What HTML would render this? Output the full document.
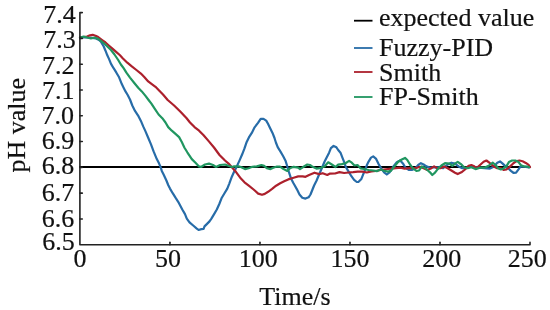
<!DOCTYPE html>
<html><head><meta charset="utf-8"><style>
html,body{margin:0;padding:0;background:#fff;width:550px;height:310px;overflow:hidden}
svg{position:absolute;left:0;top:0}
text{font-family:"Liberation Serif", "Times New Roman", serif;font-size:26px;fill:#111;stroke:#111;stroke-width:0.2px}
</style></head><body>
<svg width="550" height="310" viewBox="0 0 550 310">
<g fill="none" stroke-width="2.2" stroke-linejoin="round" stroke-linecap="round">
<line x1="80" y1="167.1" x2="529.5" y2="167.1" stroke="#000" stroke-width="2"/>
<path d="M80,37.5 L86,37.5 L92,37.8 L96,38.5 L99,40 L100.9,41.6 L103.6,46.2 L105.5,50.7 L107.3,55.3 L109.1,59.1 L110.9,63.6 L113.6,68.2 L116.4,72.7 L119.1,77.3 L121.8,84.1 L123.6,87.7 L125.5,91.4 L127.7,95 L130,99.5 L132.3,105.5 L135,110.9 L138.6,116.4 L140.9,120.9 L143.2,126.4 L145.5,131.4 L148.2,137.7 L150.9,144.1 L153.6,151.4 L156.8,159.1 L159.1,163.6 L160.5,166.8 L161.8,170.9 L163.6,174.5 L166.4,180.5 L168.2,185 L170,188.6 L172.7,193.2 L175.5,197.7 L178.2,201.8 L182.3,209.5 L185,214.1 L186.8,218.6 L189.5,222.3 L193.2,225.5 L196.8,228.6 L198.6,230 L201.4,229.1 L203.6,228.8 L204.5,226.4 L206.8,224.1 L209.5,221.4 L211.4,218.6 L214.1,214.1 L216.8,209.5 L219.3,204 L221.8,197.7 L224.5,193.2 L227.3,188.6 L229.1,184.1 L231.4,177.8 L234.1,171.8 L236.8,166.4 L239.9,159.6 L242.2,154.3 L244.4,148.7 L246.7,141.9 L248.9,137.4 L251.8,132.9 L254.6,127.3 L258,122.9 L260.7,118.8 L263.5,118.8 L266.2,120.6 L268,123.8 L269.8,127.5 L272.5,132.9 L274.5,138 L275.9,142.5 L277.7,147.1 L280.5,151.6 L283.2,156.2 L285.5,160.7 L287,165.5 L289.1,172.7 L290.9,178.2 L293.2,182.7 L294.5,185 L296.8,189.1 L299.5,194.5 L302.3,197.7 L305.5,198.6 L308.6,197.3 L310.5,194.5 L312.3,190 L314.1,185.5 L316.6,180.5 L319.1,174.5 L321.8,168.2 L324.5,161.8 L326.4,158 L329.1,152.7 L330.9,148.2 L333.6,145.9 L336.4,147.3 L338.2,150 L340.5,152.7 L342.3,157.3 L344.1,161.8 L345.9,167.1 L348.6,171.6 L351.4,176.2 L354.1,179.8 L356.8,182 L358.6,181.8 L361.4,178.9 L363.2,174.4 L365,169.8 L366.8,165.3 L368.6,161.6 L371,157.6 L373.2,156.4 L375.9,158.6 L378.6,164.1 L381.4,168.6 L384.1,172.3 L386.8,174.5 L389.5,172.3 L393.2,166.8 L396.8,162.3 L400.2,160.5 L402.9,163.4 L405.5,167.7 L409.1,170 L411.8,170 L415.5,168.2 L418.2,165 L420.9,163.2 L423.6,164.5 L426.4,166.4 L430,167.5 L434.1,167.3 L438.6,167.3 L443.2,168.2 L447.7,164.5 L451.4,162.7 L455,163.6 L458.6,166.4 L462.3,168.2 L465.9,168.2 L470.5,166.8 L475,167 L479.1,167.7 L484.5,168.2 L490,168.6 L493.6,166.8 L497.3,162.7 L500,161.4 L502.7,163.6 L505.5,166.4 L508.2,168.2 L510.9,170.9 L513.7,173 L516.1,172.6 L518.5,169.4 L520.2,166.9 L522.6,166.5 L525.8,166.9 L529,167.3" stroke="#276ca8" />
<path d="M80,37.5 L84,37 L87,36.5 L90,35.3 L92.7,34.8 L95.5,35.7 L98.2,37.1 L101.8,39.8 L105.5,42.5 L109.1,45.7 L112.7,48.9 L116.4,52.1 L120,55.3 L122.7,58.2 L127.3,62.7 L131.8,66.4 L136.4,70 L140.9,73.6 L144.5,77.3 L148.2,81.4 L151.8,84.1 L155.5,86.8 L159.1,90.5 L163,94.5 L167.7,100 L174.1,105.5 L180,111.2 L186.4,118 L190,122.5 L194.5,127.1 L199.1,130.7 L203.6,135.3 L209.1,141.6 L214,147.5 L219.5,155 L225,160.5 L228.6,163.6 L232.3,167.7 L235.9,171.8 L240.9,178.6 L244.5,182.3 L249.1,185.9 L253.6,189.5 L258.2,193.6 L262,194.8 L264.8,193.9 L268.1,191.8 L272.1,188.9 L276.1,185.7 L280.2,183.3 L284.2,181.3 L288.2,179.4 L293.6,177.7 L298.2,176.4 L302.7,176.4 L305.5,176.8 L309.1,175 L314.5,172.7 L319.1,174.1 L322.7,173.2 L327.3,175 L330,173.6 L335,173.5 L339.5,172.1 L344.1,173 L348.6,172.5 L353.2,172.1 L357.7,171.6 L362.3,171.6 L366.8,172.5 L371.4,171.4 L375.9,171 L380.5,170 L384,169.5 L388,169 L391.4,168.6 L395.9,168.2 L400.5,167.7 L404.5,168.6 L410,168.2 L415.5,168.2 L420,166.8 L423.6,168.2 L427.3,170 L431.4,168.2 L434.1,166.4 L436.8,168.2 L440.5,168.2 L444.1,166.4 L447.7,168.2 L451.4,170.5 L455,172.7 L457.7,174.1 L461.4,172.3 L465,169.5 L468.6,165.9 L471.4,165 L473.6,165.9 L476.4,168.2 L480,165 L483.6,161.8 L486.4,160.5 L490,163.2 L493.6,166.4 L497.3,168.2 L500.9,168 L503.5,170 L506.5,169.4 L509.7,166.9 L512.9,163.7 L516.1,161.3 L519.4,160.5 L522.6,161.3 L525.8,162.9 L528.6,164.9 L530,167" stroke="#ac202c" />
<path d="M80,37.5 L83.6,36.6 L87.3,37.5 L90.9,38.5 L94.5,37.5 L98.2,38.9 L100.9,40.9 L103.3,42.8 L107.1,46.2 L111,50 L114.5,54.5 L118.2,60 L120.9,64.5 L123.6,68.2 L126.4,72.7 L130,77.6 L134.5,83.2 L138.2,87.7 L141.8,91.4 L145.5,95.9 L148.2,99.5 L151.4,103.6 L155,109.1 L158.6,114.5 L162.3,118.2 L165.5,122.5 L168.2,127.1 L171.8,130.7 L175.5,133.9 L179.1,137.1 L181.8,142 L184.5,147.7 L187.3,152.3 L191.8,159.1 L195.5,162.7 L199,166.4 L201,167 L205,164.5 L209,163.6 L213,165 L216,167 L220,165 L225,164.5 L229,166 L232,167 L234.1,166.4 L238.6,166.4 L241.4,167.3 L245,169.1 L248.6,168.2 L252.3,166.8 L256.8,166.4 L261.4,165 L264.1,165.9 L266.8,168.2 L270.5,169.1 L273.2,167.7 L277,166.5 L280,166.6 L283.6,169.1 L287.3,170.9 L290,168.2 L293.6,166.8 L298.2,167.7 L300,169.1 L303.6,166.8 L307.3,164.5 L310,165 L312.7,166.8 L316.4,168.6 L320,168.2 L322,167.2 L324.5,166.5 L328.2,162.3 L331.8,164.5 L335.5,167 L338.2,164.6 L341.8,164.1 L345.5,163.2 L349.1,160.9 L351.8,162.7 L354.5,165.5 L357.5,165 L360.5,168.3 L364.1,169 L368.6,170 L373.2,170.5 L376.8,171.2 L380.5,169.5 L384.1,170.7 L388,171.6 L390.9,170.9 L394.5,166.4 L398.2,161.8 L401.8,159.5 L405,157.9 L407.3,160 L410,164.5 L412.7,168.2 L416.4,170.9 L419.1,170.5 L421.8,166.4 L424.5,167.7 L427.3,170 L430,172.3 L432.3,175 L435,172.7 L437.7,169.1 L441.4,165.5 L445,163.2 L449.5,163.6 L452.3,165.9 L455,163.6 L457.7,161.8 L461.4,164.5 L464.1,167.3 L467.7,168.2 L471.4,167.3 L475.5,169.1 L480,167.7 L484.5,167.7 L489.1,165.5 L492.7,162.7 L495.5,165 L498.2,168.2 L500.9,169.5 L503.2,168.5 L506.5,166.1 L508.9,162.1 L512.1,160.5 L515.3,160.5 L518.5,162.1 L521,165.3 L524.2,166.5 L527.4,166.5 L529,167.3" stroke="#209660" />
</g>
<g fill="none" stroke="#222" stroke-width="1.6" stroke-linecap="round" stroke-linejoin="round">
<path d="M82.30,12.60 L79.90,12.60 L79.90,244.75 L530.00,244.75 L530.00,242.35" />
<line x1="79.90" y1="218.96" x2="82.30" y2="218.96"/>
<line x1="79.90" y1="193.16" x2="82.30" y2="193.16"/>
<line x1="79.90" y1="167.37" x2="82.30" y2="167.37"/>
<line x1="79.90" y1="141.57" x2="82.30" y2="141.57"/>
<line x1="79.90" y1="115.78" x2="82.30" y2="115.78"/>
<line x1="79.90" y1="89.98" x2="82.30" y2="89.98"/>
<line x1="79.90" y1="64.19" x2="82.30" y2="64.19"/>
<line x1="79.90" y1="38.39" x2="82.30" y2="38.39"/>
<line x1="169.92" y1="244.75" x2="169.92" y2="242.35"/>
<line x1="259.94" y1="244.75" x2="259.94" y2="242.35"/>
<line x1="349.96" y1="244.75" x2="349.96" y2="242.35"/>
<line x1="439.98" y1="244.75" x2="439.98" y2="242.35"/>
</g>
<line x1="354" y1="20.70" x2="372.5" y2="20.70" stroke="#000" stroke-width="1.8"/>
<line x1="354" y1="48.00" x2="372.5" y2="48.00" stroke="#276ca8" stroke-width="1.8"/>
<line x1="354" y1="72.00" x2="372.5" y2="72.00" stroke="#ac202c" stroke-width="1.8"/>
<line x1="354" y1="97.00" x2="372.5" y2="97.00" stroke="#209660" stroke-width="1.8"/>
<text x="75.80" y="22.85" text-anchor="end">7.4</text>
<text x="75.80" y="48.40" text-anchor="end">7.3</text>
<text x="74.60" y="73.55" text-anchor="end">7.2</text>
<text x="74.60" y="99.45" text-anchor="end">7.1</text>
<text x="74.00" y="124.20" text-anchor="end">7.0</text>
<text x="74.15" y="148.50" text-anchor="end">6.9</text>
<text x="74.15" y="174.40" text-anchor="end">6.8</text>
<text x="74.15" y="200.90" text-anchor="end">6.7</text>
<text x="74.15" y="227.35" text-anchor="end">6.6</text>
<text x="74.65" y="250.30" text-anchor="end">6.5</text>
<text x="79.90" y="267.2" text-anchor="middle">0</text>
<text x="167.92" y="267.2" text-anchor="middle">50</text>
<text x="258.34" y="267.2" text-anchor="middle">100</text>
<text x="349.96" y="267.2" text-anchor="middle">150</text>
<text x="441.73" y="267.2" text-anchor="middle">200</text>
<text x="527.25" y="267.2" text-anchor="middle">250</text>
<text x="295" y="304.5" text-anchor="middle">Time/s</text>
<text transform="translate(24.8,172.6) rotate(-90)" x="0" y="0">pH value</text>
<text x="379" y="26.30">expected value</text>
<text x="379" y="56.00">Fuzzy-PID</text>
<text x="379" y="81.00">Smith</text>
<text x="379" y="105.40">FP-Smith</text>
</svg>
</body></html>
